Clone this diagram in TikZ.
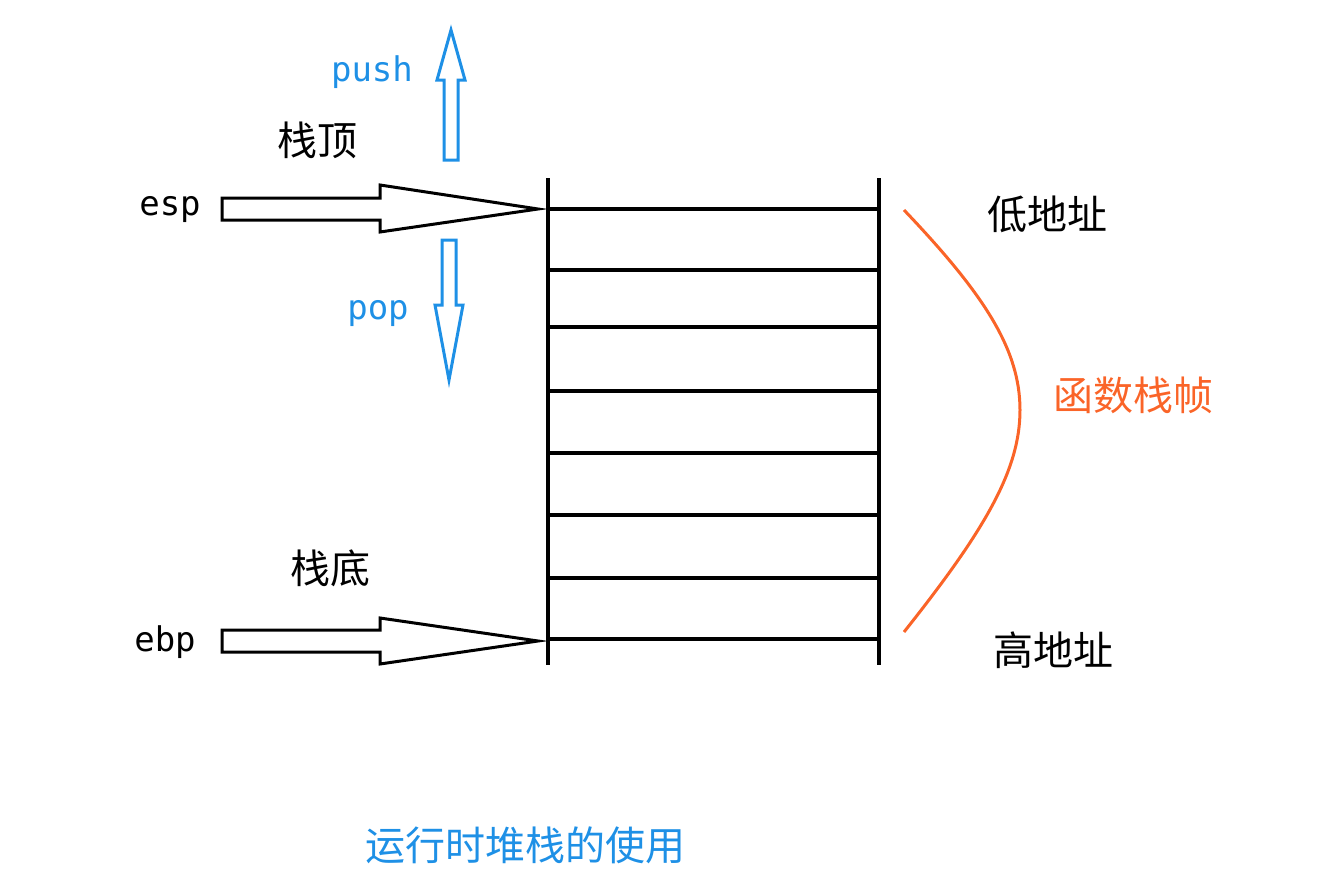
\documentclass[tikz,border=0pt]{standalone}
\usepackage{fontspec}
\newfontfamily\cjk{Noto Sans CJK SC}
\newfontfamily\mono{DejaVu Sans Mono}
\definecolor{myblue}{RGB}{30,144,230}
\definecolor{myorange}{RGB}{250,100,40}
\begin{document}
\begin{tikzpicture}[x=1pt,y=-1pt,
  stk/.style={line width=3.4pt,black},
  blk/.style={line width=3pt,draw=black,fill=white,line join=miter},
  blu/.style={line width=3pt,draw=myblue,fill=white,line join=miter},
  cn/.style={font=\cjk\fontsize{40}{40}\selectfont},
  lt/.style={font=\mono\fontsize{34}{34}\selectfont}]
\useasboundingbox (0,0) rectangle (1342,886);
% stack
\coordinate (lt) at (548,178); \coordinate (lb) at (548,665);
\coordinate (rt) at (879,178); \coordinate (rb) at (879,665);
\draw[stk] (lt) -- (lb); \draw[stk] (rt) -- (rb);
\foreach \y in {209,270,327,391,453,515,578,639} \draw[stk] (548,\y) -- (879,\y);
% esp / ebp arrows
\draw[blk] (222,198) -- (380,198) -- (380,185) -- (538,209) -- (380,232) -- (380,220) -- (222,220) -- cycle;
\draw[blk] (222,630) -- (380,630) -- (380,618) -- (538,641) -- (380,664) -- (380,652) -- (222,652) -- cycle;
% push / pop
\draw[blu] (444,160) -- (444,80) -- (437,80) -- (451,30) -- (465,80) -- (458,80) -- (458,160) -- cycle;
\draw[blu] (442,240) -- (442,305) -- (435,305) -- (449,380) -- (463,305) -- (456,305) -- (456,240) -- cycle;
% curve
\draw[myorange,line width=3pt] (904,210) .. controls (985,295) and (1020,350) .. (1020,410) .. controls (1020,470) and (985,530) .. (904,632);
% texts
\node[lt,text=myblue] (push) at (372,72) {push};
\node[lt,text=myblue] (pop) at (378,314) {pop};
\node[cn] (top) at (317,140) {栈顶};
\node[lt] (esp) at (170,210) {esp};
\node[cn] (bot) at (330,568) {栈底};
\node[lt] (ebp) at (165,642) {ebp};
\node[cn] (low) at (1047,214) {低地址};
\node[cn] (high) at (1053,650) {高地址};
\node[cn,text=myorange] (frame) at (1133,395) {函数栈帧};
\node[cn,text=myblue] (title) at (525,845) {运行时堆栈的使用};
\end{tikzpicture}
\end{document}
